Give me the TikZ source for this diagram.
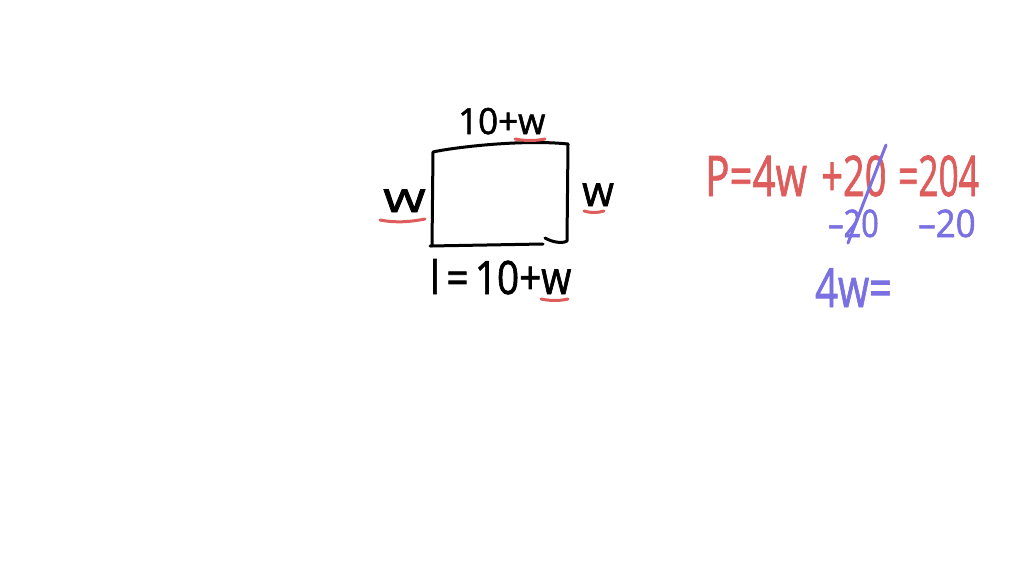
\documentclass[tikz,border=0pt]{standalone}
\usepackage{fontspec}
\usepackage{graphicx}
\setmainfont{Open Sans}[BoldFont={Open Sans}, BoldFeatures={FakeBold=1.6}]
\definecolor{hred}{RGB}{222,92,92}
\definecolor{hblue}{RGB}{122,112,226}
\newcommand{\nar}[2]{\scalebox{#1}[1]{#2}}
\tikzset{
  ink/.style={line width=3pt, line cap=round, line join=round},
  hand/.style={inner sep=0pt, anchor=base west, text depth=0pt, text height=#1*0.74pt, font=\fontsize{#1}{#1}\selectfont\bfseries},
  hand/.default=40,
}
\begin{document}
\begin{tikzpicture}[x=1pt,y=-1pt]
\useasboundingbox (0,0) rectangle (1024,576);
% rectangle corners
\coordinate (tl) at (433,152);
\coordinate (tr) at (568,144);
\coordinate (bl) at (430,246);
\coordinate (br) at (567,241);
\coordinate (be) at (543,244);
\coordinate (hk) at (545,238);
\draw[ink] (tl) .. controls (450,148) and (520,139) .. (tr);
\draw[ink] (tr) -- (br) .. controls (562,244) and (552,242) .. (hk);
\draw[ink] (tl) -- (432,246);
\draw[ink] (bl) -- (be);
% labels
\node[hand=36] (top) at (458,134) {\nar{0.97}{10+w}};
\node[hand=42] (lw) at (383,212) {\nar{1.3}{w}};
\node[hand=42] (rw) at (582,206) {\nar{0.97}{w}};
\node[hand=46] (bot) at (430,294) {\nar{0.84}{l\,=\,10+w}};
% red underlines
\draw[ink,hred] (380,220) .. controls (395,223) and (410,222) .. (425,219);
\draw[ink,hred] (515,139) .. controls (525,141) and (535,141) .. (545,139);
\draw[ink,hred] (584,211) .. controls (590,213) and (598,213) .. (604,211);
\draw[ink,hred] (541,299) .. controls (550,301) and (560,301) .. (568,299);
% equations
\node[hand=56,text=hred] (eqa) at (705,196) {\nar{0.72}{P=4w}};
\node[hand=56,text=hred] (eqb) at (821,196) {\nar{0.68}{+20}};
\node[hand=56,text=hred] (eqc) at (898,196) {\nar{0.63}{=204}};
\node[hand=38,text=hblue] (m1) at (828,237) {\nar{0.81}{–20}};
\node[hand=38,text=hblue] (m2) at (918,237) {\nar{0.92}{–20}};
\node[hand=54,text=hblue] (fw) at (815,307) {\nar{0.74}{4w=}};
\draw[ink,hblue] (886,145) -- (848,243);
\end{tikzpicture}
\end{document}
